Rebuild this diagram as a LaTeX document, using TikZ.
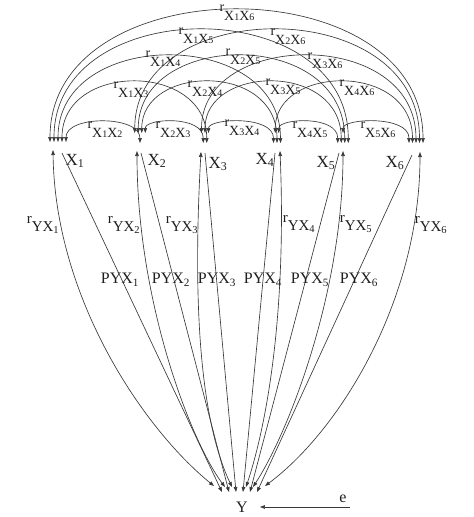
\documentclass[tikz,border=0pt]{standalone}
\usepackage{fontspec}
\setmainfont{Liberation Serif}
\usetikzlibrary{arrows.meta,calc}
\newcommand\rlab[2]{r\raisebox{-9pt}{X{\fontsize{10}{10}\selectfont #1}X{\fontsize{10}{10}\selectfont #2}}}
\newcommand\rylab[1]{r\raisebox{-8pt}{YX\textsubscript{#1}}}
\newcommand\plab[1]{PYX\textsubscript{#1}}
\newcommand\xlab[1]{X\textsubscript{#1}}
\begin{document}
\begin{tikzpicture}[x=1pt,y=-1pt,
  ln/.style={draw=black!78,line width=0.65pt},
  dbl/.style={ln,{Triangle[length=5pt,width=3.6pt]}-{Triangle[length=5pt,width=3.6pt]}},
  one/.style={ln,-{Triangle[length=5pt,width=3.6pt]}},
  txt/.style={inner sep=0pt,text=black!88},
  rl/.style={txt,font=\fontsize{14}{14}\selectfont},
  ryl/.style={txt,font=\fontsize{15}{15}\selectfont},
  pl/.style={txt,font=\fontsize{16}{16}\selectfont},
  xl/.style={txt,font=\fontsize{17}{17}\selectfont}]
\useasboundingbox (0,0) rectangle (474,517);
% X1 outgoing
\coordinate (o16) at (50,142);
\coordinate (o15) at (54,142);
\coordinate (o14) at (58,142);
\coordinate (o13) at (62,142);
\coordinate (o12) at (66,142);
% X2
\coordinate (o26) at (134.75,133);
\coordinate (o25) at (138.25,133);
\coordinate (o24) at (141.75,133);
\coordinate (o23) at (145.25,133);
\coordinate (i12) at (140,143);
% X3
\coordinate (o36) at (201.5,133);
\coordinate (o35) at (205,133);
\coordinate (o34) at (208.5,133);
\coordinate (i23) at (203.25,143);
\coordinate (i13) at (206.75,143);
% X4
\coordinate (o46) at (275.25,133);
\coordinate (o45) at (278.75,133);
\coordinate (i34) at (273.5,143);
\coordinate (i24) at (277,143);
\coordinate (i14) at (280.5,143);
% X5
\coordinate (o56) at (343,133);
\coordinate (i45) at (337.75,143);
\coordinate (i35) at (341.25,143);
\coordinate (i25) at (344.75,143);
\coordinate (i15) at (348.25,143);
% X6
\coordinate (i56) at (409,143);
\coordinate (i46) at (412.5,143);
\coordinate (i36) at (416,143);
\coordinate (i26) at (419.5,143);
\coordinate (i16) at (423,143);
% arcs span 1
\draw[dbl] (o12) .. controls +(0,-26.7) and +(0,-28) .. (i12);
\draw[dbl] (o23) .. controls +(0,-14.7) and +(0,-28) .. (i23);
\draw[dbl] (o34) .. controls +(0,-14.7) and +(0,-28) .. (i34);
\draw[dbl] (o45) .. controls +(0,-14.7) and +(0,-28) .. (i45);
\draw[dbl] (o56) .. controls +(0,-14.7) and +(0,-28) .. (i56);
% span 2
\draw[dbl] (o13) .. controls +(0,-80) and +(0,-81.3) .. (i13);
\draw[dbl] (o24) .. controls +(0,-68) and +(0,-81.3) .. (i24);
\draw[dbl] (o35) .. controls +(0,-68) and +(0,-81.3) .. (i35);
\draw[dbl] (o46) .. controls +(0,-68) and +(0,-81.3) .. (i46);
% span 3
\draw[dbl] (o14) .. controls +(0,-114.7) and +(0,-116) .. (i14);
\draw[dbl] (o25) .. controls +(0,-102.7) and +(0,-116) .. (i25);
\draw[dbl] (o36) .. controls +(0,-102.7) and +(0,-116) .. (i36);
% span 4
\draw[dbl] (o15) .. controls +(0,-149.3) and +(0,-150.7) .. (i15);
\draw[dbl] (o26) .. controls +(0,-137.3) and +(0,-150.7) .. (i26);
% span 5
\draw[dbl] (o16) .. controls +(0,-176) and +(0,-177.3) .. (i16);
% arc labels
\node[rl] (l12) at (105,130) {\rlab12};
\node[rl] (l23) at (173,130) {\rlab23};
\node[rl] (l34) at (242,128) {\rlab34};
\node[rl] (l45) at (310,130) {\rlab45};
\node[rl] (l56) at (378,130) {\rlab56};
\node[rl] (l13) at (131,90) {\rlab13};
\node[rl] (l24) at (205,89) {\rlab24};
\node[rl] (l35) at (283,87) {\rlab35};
\node[rl] (l46) at (357,88) {\rlab46};
\node[rl] (l14) at (163,59) {\rlab14};
\node[rl] (l25) at (243,57) {\rlab25};
\node[rl] (l36) at (325,61) {\rlab36};
\node[rl] (l15) at (196,36) {\rlab15};
\node[rl] (l26) at (288,37) {\rlab26};
\node[rl] (l16) at (237,13) {\rlab16};
% X labels
\node[xl] (X1) at (75,161) {\xlab1};
\node[xl] (X2) at (157,161) {\xlab2};
\node[xl] (X3) at (218,164) {\xlab3};
\node[xl] (X4) at (265,160) {\xlab4};
\node[xl] (X5) at (326,163) {\xlab5};
\node[xl] (X6) at (395,163) {\xlab6};
% ends at X for paths to Y
\coordinate (ru1) at (53,150);
\coordinate (ru2) at (137,151);
\coordinate (ru3) at (201,152);
\coordinate (ru4) at (280,151);
\coordinate (ru5) at (343,151);
\coordinate (ru6) at (420,152);
\coordinate (ps1) at (62,153);
\coordinate (ps2) at (141,153);
\coordinate (ps3) at (205,153);
\coordinate (ps4) at (275,153);
\coordinate (ps5) at (339,153);
\coordinate (ps6) at (412,155);
% ends at Y
\coordinate (ry1) at (214,486);
\coordinate (py1) at (222,492);
\coordinate (ry2) at (225,487);
\coordinate (py2) at (229,492);
\coordinate (ry3) at (232,487);
\coordinate (py3) at (236,492);
\coordinate (py4) at (243,492);
\coordinate (ry4) at (246,487);
\coordinate (py5) at (250,492);
\coordinate (ry5) at (253,487);
\coordinate (py6) at (257,492);
\coordinate (ry6) at (265,486);
% correlations with Y
\draw[dbl] (ru1) .. controls (55,300) and (145,430) .. (ry1);
\draw[dbl] (ru2) .. controls (137,300) and (190,440) .. (ry2);
\draw[dbl] (ru3) .. controls (191,330) and (205,430) .. (ry3);
\draw[dbl] (ru4) .. controls (287,320) and (265,430) .. (ry4);
\draw[dbl] (ru5) .. controls (343,290) and (290,430) .. (ry5);
\draw[dbl] (ru6) .. controls (420,300) and (340,430) .. (ry6);
% path coefficients
\draw[one] (ps1) -- (py1);
\draw[one] (ps2) -- (py2);
\draw[one] (ps3) -- (py3);
\draw[one] (ps4) -- (py4);
\draw[one] (ps5) -- (py5);
\draw[one] (ps6) -- (py6);
% labels
\node[ryl] (q1) at (43,225) {\rylab1};
\node[ryl] (q2) at (124,225) {\rylab2};
\node[ryl] (q3) at (182,225) {\rylab3};
\node[ryl] (q4) at (299,224) {\rylab4};
\node[ryl] (q5) at (356,224) {\rylab5};
\node[ryl] (q6) at (431,225) {\rylab6};
\node[pl] (p1) at (120,280) {\plab1};
\node[pl] (p2) at (171,280) {\plab2};
\node[pl] (p3) at (217,280) {\plab3};
\node[pl] (p4) at (263,280) {\plab4};
\node[pl] (p5) at (310,280) {\plab5};
\node[pl] (p6) at (359,280) {\plab6};
% Y and e
\node[pl,inner xsep=12pt] (Y) at (242,507) {Y};
\node[pl] (e) at (343,499) {e};
\coordinate (eA) at (350,507);
\draw[one] (eA) -- (Y.east);
\end{tikzpicture}
\end{document}
